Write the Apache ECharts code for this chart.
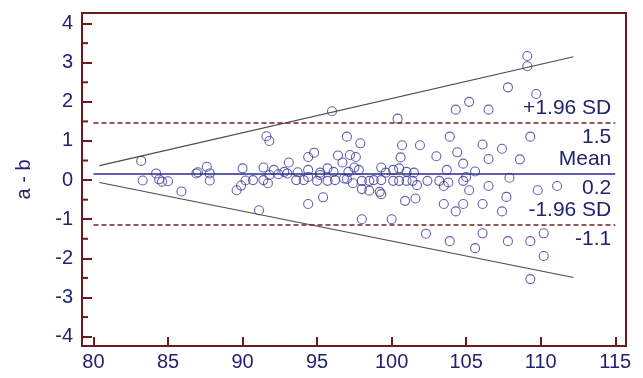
<!DOCTYPE html>
<html>
<head>
<meta charset="utf-8">
<script src="https://cdn.jsdelivr.net/npm/echarts@6/dist/echarts.min.js"></script>
<style>
  html, body { margin: 0; padding: 0; background: #fff; }
  #chart { width: 643px; height: 378px; }
</style>
</head>
<body>
<div id="chart"></div>
<script>
// mean of (a, b) on x, difference a - b on y
const avgAB = [
  83.2, 83.3, 84.2, 84.4, 84.6, 85.0, 85.9, 86.9, 87.0, 87.6, 87.8, 87.8, 89.6, 89.9, 90.0, 90.2, 91.1, 90.7,
  91.6, 91.8, 94.4, 94.8, 96.4, 93.1, 96.7, 91.4, 92.1, 92.8, 93.7, 94.4, 95.2, 95.7, 96.1,
  91.4, 91.7, 91.8, 92.4, 93.0, 93.6, 94.1, 94.4, 95.0, 95.2, 95.7, 96.2, 94.4, 95.4, 96.8, 97.0,
  97.0, 97.9, 100.7, 101.9, 100.6, 103.0, 97.2, 97.6, 97.5, 97.8, 97.1, 99.3, 100.1, 100.5, 101.0, 101.5,
  97.4, 98.0, 98.5, 98.8, 99.3, 99.6, 100.1, 100.5, 101.0, 101.4, 101.7, 102.4, 103.2, 98.0, 98.5, 99.2, 99.3, 100.9, 101.6, 98.0, 100.0,
  103.9, 106.1, 107.4, 109.3, 104.4, 104.8, 106.5, 108.6, 103.7, 105.6, 103.8, 104.8, 105.0, 105.2, 106.5, 107.9, 107.7,
  103.5, 104.3, 104.8, 106.1, 107.4, 109.8, 111.1, 103.5,
  109.1, 109.1, 107.8, 109.7, 105.2, 104.3, 106.5, 96.0, 100.4,
  102.3, 103.9, 106.1, 105.6, 107.8, 109.3, 110.2, 110.2, 109.3
]
const diffAB = [
  0.49, -0.01, 0.17, 0.02, -0.04, -0.03, -0.29, 0.17, 0.20, 0.34, 0.17, -0.01, -0.26, -0.14, 0.30, -0.01, -0.77, 0.00,
  1.12, 1.00, 0.59, 0.70, 0.63, 0.45, 0.45, 0.32, 0.26, 0.21, 0.20, 0.26, 0.19, 0.30, 0.21,
  0.00, -0.08, 0.13, 0.15, 0.17, 0.00, 0.00, 0.08, -0.02, 0.13, -0.02, 0.00, -0.61, -0.44, 0.04, 0.03,
  1.11, 0.94, 0.89, 0.89, 0.58, 0.61, 0.64, 0.59, 0.32, 0.26, 0.21, 0.32, 0.26, 0.30, 0.21, 0.19,
  -0.08, -0.02, -0.02, 0.00, 0.00, 0.19, -0.02, -0.02, -0.02, -0.02, -0.13, -0.02, -0.02, -0.23, -0.27, -0.30, -0.36, -0.53, -0.47, -1.00, -1.00,
  1.11, 0.91, 0.80, 1.11, 0.71, 0.42, 0.54, 0.53, 0.26, 0.22, -0.06, -0.02, 0.08, -0.26, -0.15, 0.06, -0.43,
  -0.61, -0.80, -0.61, -0.61, -0.80, -0.26, -0.15, -0.15,
  3.17, 2.91, 2.37, 2.20, 2.00, 1.80, 1.80, 1.76, 1.57,
  -1.37, -1.56, -1.36, -1.74, -1.56, -1.56, -1.36, -1.94, -2.53
]

// horizontal reference levels
const meanDiff = 0.17
const upperLoA = 1.47
const lowerLoA = -1.13
const refSpan = [80, 115]
const refLabels = ['+1.96 SD', '1.5', 'Mean', '0.2', '-1.96 SD', '-1.1']

// sloped lines
const upperSlope = [[80.4, 0.37], [112.2, 3.15]]
const lowerSlope = [[80.4, -0.06], [112.2, -2.49]]

// axes
const xRange = [79.23, 115.72]
const yRange = [-4.24, 4.27]
const xTicks = [80, 85, 90, 95, 100, 105, 110, 115]
const yTicks = [-4, -3, -2, -1, 0, 1, 2, 3, 4]
const yMinorTicks = [-3.5, -2.5, -1.5, -0.5, 0.5, 1.5, 2.5, 3.5]

const points = avgAB.map((x, i) => [x, diffAB[i]])

const axisRed = '#6e1a1a'
const navy = '#22226e'
const font = 'Liberation Sans, Arial, sans-serif'

// one level -> two markLine items (text above, text below)
function refLine(level, top, bottom, lineStyle) {
  return [
    [
      { coord: [refSpan[0], level], lineStyle: lineStyle, label: { formatter: top, position: 'insideEndTop' } },
      { coord: [refSpan[1], level] }
    ],
    [
      { coord: [refSpan[0], level], lineStyle: { color: 'rgba(0,0,0,0)' }, label: { formatter: bottom, position: 'insideEndBottom' } },
      { coord: [refSpan[1], level] }
    ]
  ]
}

const dashStyle = { color: '#7a1e1e', width: 1.6, type: [5, 3] }
const meanStyle = { color: '#2a2a8e', width: 1.5, type: 'solid' }

const chart = echarts.init(document.getElementById('chart'))
chart.setOption({
  animation: false,
  grid: {
    left: 82, right: 17, top: 13, bottom: 32,
    show: true, borderColor: axisRed, borderWidth: 2,
    outerBoundsMode: 'none'
  },
  xAxis: {
    type: 'value',
    min: xRange[0], max: xRange[1],
    axisLine: { show: true, onZero: false, lineStyle: { color: axisRed, width: 2 } },
    axisTick: { show: true, inside: true, length: 9, customValues: xTicks, lineStyle: { color: axisRed, width: 2 } },
    axisLabel: { customValues: xTicks, color: navy, fontSize: 20, fontFamily: font, margin: 6 },
    splitLine: { show: false }
  },
  yAxis: {
    type: 'value',
    min: yRange[0], max: yRange[1],
    name: 'a - b',
    nameLocation: 'middle',
    nameGap: 48,
    nameTextStyle: { color: navy, fontSize: 20, fontFamily: font },
    axisLine: { show: true, onZero: false, lineStyle: { color: axisRed, width: 2 } },
    axisTick: { show: true, inside: true, length: 10, customValues: yTicks, lineStyle: { color: axisRed, width: 2 } },
    axisLabel: { customValues: yTicks, color: navy, fontSize: 20, fontFamily: font, margin: 9 },
    splitLine: { show: false }
  },
  series: [
    {
      // half-unit minor ticks on the left axis
      type: 'custom',
      silent: true,
      clip: false,
      z: 5,
      data: yMinorTicks.map(v => [xRange[0], v]),
      renderItem: function (params, api) {
        const p = api.coord([api.value(0), api.value(1)])
        return {
          type: 'line',
          shape: { x1: p[0], y1: p[1], x2: p[0] + 6, y2: p[1] },
          style: { stroke: axisRed, lineWidth: 2 }
        }
      }
    },
    {
      type: 'line',
      data: upperSlope,
      symbol: 'none',
      lineStyle: { color: '#4a4a4a', width: 1.1 }
    },
    {
      type: 'line',
      data: lowerSlope,
      symbol: 'none',
      lineStyle: { color: '#4a4a4a', width: 1.1 }
    },
    {
      type: 'scatter',
      data: points,
      symbol: 'circle',
      symbolSize: 9,
      itemStyle: { color: 'rgba(0,0,0,0)', borderColor: '#3a3a9c', borderWidth: 1.1 },
      markLine: {
        silent: true,
        symbol: 'none',
        label: { color: navy, fontSize: 21, fontFamily: font, distance: 4 },
        data: [
          ...refLine(upperLoA, refLabels[0], refLabels[1], dashStyle),
          ...refLine(meanDiff, refLabels[2], refLabels[3], meanStyle),
          ...refLine(lowerLoA, refLabels[4], refLabels[5], dashStyle)
        ]
      }
    }
  ]
})
</script>
</body>
</html>
